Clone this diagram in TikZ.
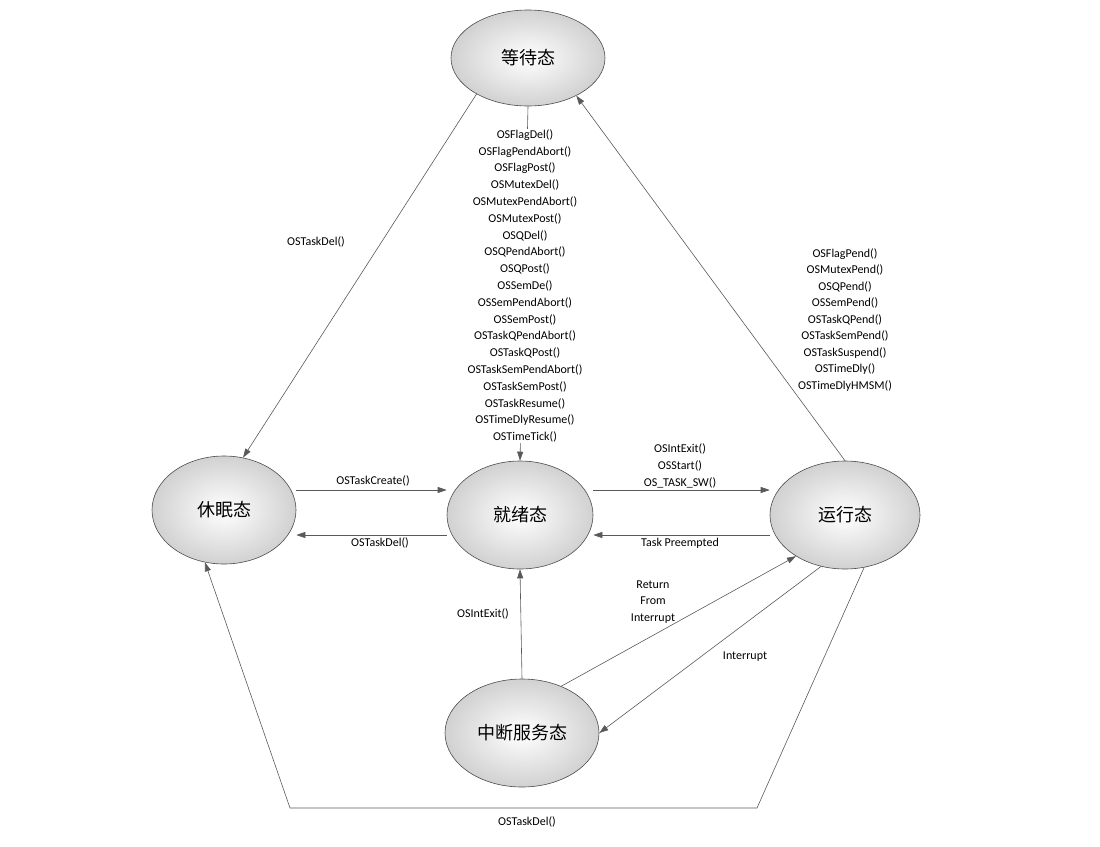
\documentclass[tikz,border=0pt]{standalone}
\usepackage{fontspec}
\setmainfont{Carlito}
\newfontfamily\cjk{Noto Sans CJK SC}
\usetikzlibrary{shapes.geometric,arrows.meta}
\begin{document}
\begin{tikzpicture}[x=1pt,y=-1pt,
  st/.style={ellipse,draw=black!70,line width=0.6pt,inner color=white,outer color=black!18,font=\cjk\fontsize{18}{20}\selectfont},
  ar/.style={draw=black!65,line width=0.6pt,-{Triangle[length=9pt,width=6pt]}},
  lb/.style={font=\fontsize{12}{16.8}\selectfont,align=center,inner sep=1pt}]
\useasboundingbox (0,0) rectangle (1100,846);
\node[st,minimum width=154,minimum height=96] (W) at (528,58) {等待态};
\node[st,minimum width=144,minimum height=108] (D) at (224,510) {休眠态};
\node[st,minimum width=146,minimum height=108] (R) at (520,515) {就绪态};
\node[st,minimum width=150,minimum height=108] (U) at (845,515) {运行态};
\node[st,minimum width=154,minimum height=108] (I) at (522,733) {中断服务态};
\coordinate (c1) at (757,808);
\coordinate (c2) at (290,808);
% waiting -> dormant
\draw[ar] (W.215) -- (D.70);
\node[lb] at (316,242) {OSTaskDel()};
% waiting -> ready
\draw[ar] (W.south) -- (R.north);
\node[lb,fill=white] at (525,286) {OSFlagDel()\\OSFlagPendAbort()\\OSFlagPost()\\OSMutexDel()\\OSMutexPendAbort()\\OSMutexPost()\\OSQDel()\\OSQPendAbort()\\OSQPost()\\OSSemDe()\\OSSemPendAbort()\\OSSemPost()\\OSTaskQPendAbort()\\OSTaskQPost()\\OSTaskSemPendAbort()\\OSTaskSemPost()\\OSTaskResume()\\OSTimeDlyResume()\\OSTimeTick()};
% running -> waiting
\draw[ar] (U.north) -- (W.322);
\node[lb,fill=white,font=\fontsize{12}{16.5}\selectfont] at (845,320) {OSFlagPend()\\OSMutexPend()\\OSQPend()\\OSSemPend()\\OSTaskQPend()\\OSTaskSemPend()\\OSTaskSuspend()\\OSTimeDly()\\OSTimeDlyHMSM()};
% dormant <-> ready
\draw[ar] ([yshift=20]D.east) -- ([yshift=25]R.west);
\node[lb] at (373,481) {OSTaskCreate()};
\draw[ar] ([yshift=-20]R.west) -- ([yshift=-25]D.east);
\node[lb] at (380,543) {OSTaskDel()};
% ready <-> running
\draw[ar] ([yshift=25]R.east) -- ([yshift=25]U.west);
\node[lb] at (680,466) {OSIntExit()\\OSStart()\\OS\_TASK\_SW()};
\draw[ar] ([yshift=-20]U.west) -- ([yshift=-20]R.east);
\node[lb] at (680,543) {Task Preempted};
% ISR -> ready
\draw[ar] (I.north) -- (R.south);
\node[lb] at (483,614) {OSIntExit()};
% ISR <-> running
\draw[ar] (I.50) -- (U.220);
\node[lb] at (653,602) {Return\\From\\Interrupt};
\draw[ar] (U.245) -- (I.east);
\node[lb] at (745,657) {Interrupt};
% running -> dormant
\draw[ar] (U.290) -- (c1) -- (c2) -- (D.250);
\node[lb] at (527,822) {OSTaskDel()};
\end{tikzpicture}
\end{document}
